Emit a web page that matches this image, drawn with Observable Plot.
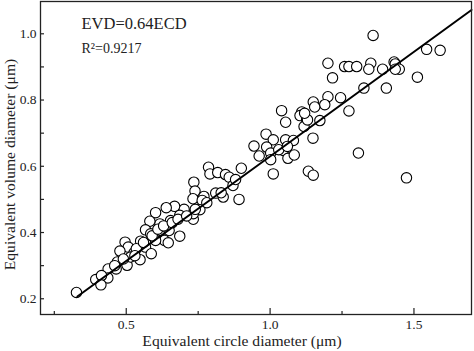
<!DOCTYPE html>
<html>
<head>
<meta charset="utf-8">
<script src="https://cdn.jsdelivr.net/npm/d3@7"></script>
<script src="https://cdn.jsdelivr.net/npm/@observablehq/plot@0.6"></script>
<style>
  html, body { margin: 0; padding: 0; background: #fff; }
  #chart svg { display: block; }
</style>
</head>
<body>
<div id="chart"></div>
<script>
// Equivalent circle diameter (µm) for each particle
const ecd = [1.358, 1.544, 1.591, 1.201, 1.259, 1.274, 1.301, 1.350, 1.343, 1.391,
  1.431, 1.435, 1.449, 1.435, 1.512, 1.217, 1.326, 1.404, 1.201, 1.245,
  1.190, 1.150, 1.155, 1.274, 1.040, 1.110, 1.054, 1.104, 1.127, 1.118,
  1.173, 1.149, 0.986, 1.011, 1.054, 1.081, 0.944, 0.988, 0.962, 1.002,
  1.046, 1.002, 1.062, 1.084, 1.011, 1.133, 1.150, 1.307, 1.474, 0.900,
  0.786, 0.791, 0.818, 0.845, 0.858, 0.871, 0.837, 0.811, 0.892, 0.735,
  0.739, 0.732, 0.770, 0.764, 0.756, 0.733, 0.733, 0.701, 0.668, 0.639,
  0.602, 0.686, 0.654, 0.617, 0.582, 0.567, 0.585, 0.620, 0.649, 0.633,
  0.646, 0.686, 0.602, 0.550, 0.496, 0.507, 0.478, 0.527, 0.567, 0.587,
  0.548, 0.503, 0.469, 0.465, 0.437, 0.436, 0.394, 0.414, 0.412, 0.327,
  0.515, 0.535,
  0.460, 0.490, 0.530, 0.560, 0.590, 0.610, 0.630, 0.660, 0.680, 0.710,
  0.740, 0.780, 0.830, 0.880, 1.030, 1.060, 1.130, 1.120];
// Equivalent volume diameter (µm) for each particle
const evd = [0.995, 0.953, 0.950, 0.911, 0.901, 0.901, 0.901, 0.911, 0.893, 0.893,
  0.915, 0.909, 0.893, 0.893, 0.869, 0.867, 0.836, 0.836, 0.810, 0.807,
  0.786, 0.794, 0.779, 0.767, 0.768, 0.764, 0.733, 0.753, 0.741, 0.720,
  0.738, 0.685, 0.697, 0.680, 0.680, 0.678, 0.661, 0.658, 0.631, 0.640,
  0.648, 0.620, 0.624, 0.634, 0.577, 0.585, 0.573, 0.640, 0.565, 0.594,
  0.597, 0.577, 0.581, 0.575, 0.567, 0.542, 0.507, 0.519, 0.500, 0.552,
  0.525, 0.502, 0.509, 0.497, 0.469, 0.440, 0.457, 0.470, 0.479, 0.475,
  0.460, 0.452, 0.436, 0.426, 0.434, 0.408, 0.396, 0.406, 0.406, 0.376,
  0.369, 0.389, 0.376, 0.374, 0.371, 0.356, 0.344, 0.339, 0.356, 0.336,
  0.318, 0.301, 0.311, 0.290, 0.290, 0.263, 0.258, 0.270, 0.242, 0.219,
  0.326, 0.351,
  0.300, 0.320, 0.330, 0.370, 0.390, 0.410, 0.420, 0.430, 0.440, 0.450,
  0.470, 0.490, 0.520, 0.560, 0.650, 0.660, 0.740, 0.760];
// Fitted line end points (EVD = 0.64 ECD)
const fitECD = [0.33, 1.70];
const fitEVD = [0.207, 1.072];
// Ticks
const xMajor = [0.5, 1.0, 1.5];
const xMinor = [0.25, 0.75, 1.25];
const yLabels = [0.2, 0.4, 0.6, 0.8, 1.0];
const yTicks = [0.2, 0.3, 0.4, 0.5, 0.6, 0.7, 0.8, 0.9, 1.0];
const eqText = "EVD=0.64ECD";
const r2Text = "R\u00B2=0.9217";
const xTitle = "Equivalent circle diameter (\u03BCm)";
const yTitle = "Equivalent volume diameter (\u03BCm)";

const points = ecd.map((x, i) => ({x, y: evd[i]}));
const fit = fitECD.map((x, i) => ({x, y: fitEVD[i]}));

const W = 474, H = 351;
const mL = 40, mR = 3, mT = 1, mB = 37;
const plotH = H - mT - mB, plotW = W - mL - mR;
const font = "'Liberation Serif', 'Times New Roman', serif";
const ink = "#222";

const chart = Plot.plot({
  width: W, height: H,
  marginLeft: mL, marginRight: mR, marginTop: mT, marginBottom: mB,
  style: {fontFamily: font, fontSize: "13px", color: ink, background: "#fff"},
  x: {domain: [0.202, 1.70]},
  y: {domain: [0.1525, 1.0975]},
  marks: [
    Plot.axisX(xMajor, {tickSize: 0, tickPadding: 5, tickFormat: d3.format(".1f"), fontSize: 13.5, label: null}),
    Plot.axisY(yLabels, {tickSize: 0, tickPadding: 4, tickFormat: d3.format(".1f"), fontSize: 13.5, label: null}),
    Plot.tickX(xMajor, {x: d => d, insetTop: plotH - 6, stroke: ink, strokeWidth: 1.2}),
    Plot.tickX(xMinor, {x: d => d, insetTop: plotH - 3, stroke: ink, strokeWidth: 1.2}),
    Plot.tickY(yTicks, {y: d => d, insetRight: plotW - 4, stroke: ink, strokeWidth: 1.2}),
    Plot.dot(points, {x: "x", y: "y", r: 5.2, fill: "white", stroke: "black", strokeWidth: 1.1}),
    Plot.line(fit, {x: "x", y: "y", stroke: "black", strokeWidth: 2}),
    Plot.frame({stroke: ink, strokeWidth: 1.3}),
    Plot.text([eqText], {text: d => d, frameAnchor: "top-left", dx: 41, dy: 27, lineAnchor: "bottom", textAnchor: "start", fontSize: 16.5, fill: ink}),
    Plot.text([r2Text], {text: d => d, frameAnchor: "top-left", dx: 41, dy: 51, lineAnchor: "bottom", textAnchor: "start", fontSize: 14, fill: ink}),
    Plot.text([xTitle], {text: d => d, frameAnchor: "bottom", dx: -14, dy: 31, lineAnchor: "bottom", textAnchor: "middle", fontSize: 15.6, fill: ink}),
    Plot.text([yTitle], {text: d => d, frameAnchor: "left", dx: -30.5, dy: 6.5, rotate: -90, lineAnchor: "middle", textAnchor: "middle", fontSize: 15.6, fill: ink})
  ]
});
document.getElementById("chart").appendChild(chart);
</script>
</body>
</html>
